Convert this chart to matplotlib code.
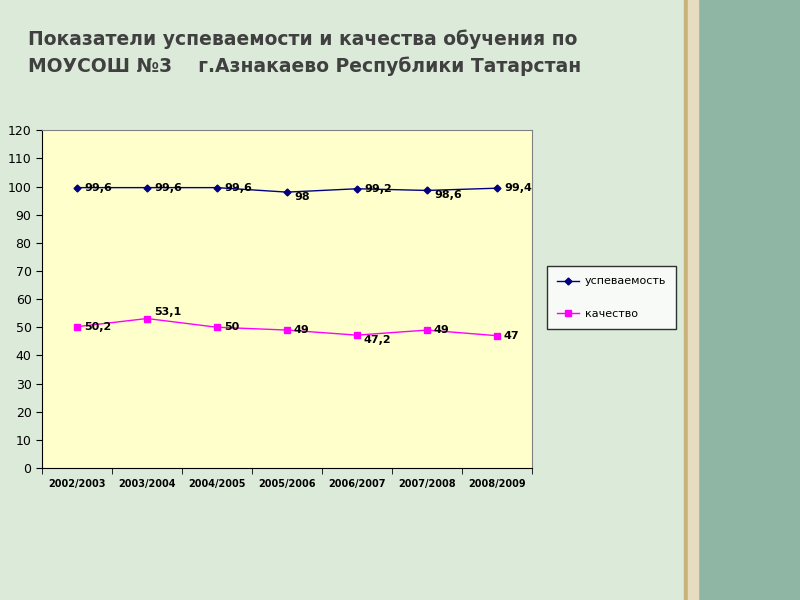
import matplotlib
matplotlib.use("Agg")
import matplotlib.pyplot as plt
from matplotlib.patches import Rectangle

years = ["2002/2003","2003/2004","2004/2005","2005/2006","2006/2007","2007/2008","2008/2009"]
uspev = [99.6, 99.6, 99.6, 98, 99.2, 98.6, 99.4]
kach = [50.2, 53.1, 50, 49, 47.2, 49, 47]
uspev_lbl = ["99,6","99,6","99,6","98","99,2","98,6","99,4"]
kach_lbl = ["50,2","53,1","50","49","47,2","49","47"]

fig = plt.figure(figsize=(8, 6), dpi=100)
fig.patch.set_facecolor("#dcebd9")
fig.patches.append(Rectangle((0.855, 0), 0.145, 1, transform=fig.transFigure, color="#c9b27a", zorder=0))
fig.patches.append(Rectangle((0.872, 0), 0.128, 1, transform=fig.transFigure, color="#8fb5a5", zorder=0))
fig.patches.append(Rectangle((0.86, 0), 0.012, 1, transform=fig.transFigure, color="#e8dcc0", zorder=0))

fig.text(0.035, 0.925, "Показатели успеваемости и качества обучения по", fontsize=13.5, fontweight="bold", color="#404040")
fig.text(0.035, 0.88, "МОУСОШ №3    г.Азнакаево Республики Татарстан", fontsize=13.5, fontweight="bold", color="#404040")

ax = fig.add_axes([0.0525, 0.22, 0.6125, 0.563])
ax.set_facecolor("#ffffcc")
x = list(range(len(years)))
ax.plot(x, uspev, color="#000080", marker="D", markersize=3.5, lw=1, label="успеваемость")
ax.plot(x, kach, color="#ff00ff", marker="s", markersize=4, lw=1, label="качество")
for i in x:
    ax.text(i + 0.1, uspev[i], uspev_lbl[i], fontsize=8, fontweight="bold", va="center" if i not in (3, 5) else "top")
    if kach_lbl[i] == "53,1":
        ax.text(i + 0.1, kach[i] + 0.5, kach_lbl[i], fontsize=8, fontweight="bold", va="bottom")
    else:
        ax.text(i + 0.1, kach[i], kach_lbl[i], fontsize=8, fontweight="bold", va="top" if kach_lbl[i] == "47,2" else "center")
ax.set_xlim(-0.5, 6.5)
ax.set_ylim(0, 120)
ax.set_yticks(range(0, 121, 10))
ax.set_xticks(x)
ax.set_xticklabels(years, fontsize=7, fontweight="bold")
ax.set_xticks([i + 0.5 for i in range(-1, 7)], minor=True)
ax.tick_params(axis="x", which="major", length=0, pad=8)
ax.tick_params(axis="x", which="minor", length=4)
ax.tick_params(axis="y", labelsize=9, length=4)
for s in ax.spines.values():
    s.set_color("#808080")
ax.spines["left"].set_color("black")
ax.spines["bottom"].set_color("black")

leg = fig.legend(loc="upper left", bbox_to_anchor=(0.684, 0.556), fontsize=8, frameon=True,
                 fancybox=False, edgecolor="black", labelspacing=2.0, handlelength=2.0,
                 borderpad=0.9, handletextpad=0.5, borderaxespad=0)
leg.get_frame().set_facecolor("white")
fig.savefig("out.png", dpi=100, facecolor=fig.get_facecolor())
